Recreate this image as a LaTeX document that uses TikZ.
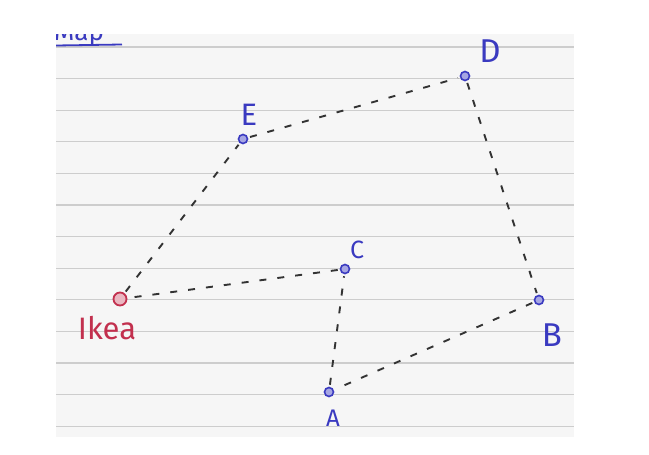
\documentclass[tikz,border=0pt]{standalone}
\usepackage{fontspec}
\setmainfont{Fira Sans}
\definecolor{paper}{HTML}{F6F6F6}
\definecolor{rule}{HTML}{CDCDCD}
\definecolor{ink}{HTML}{3A3AC0}
\definecolor{redink}{HTML}{C2304E}
\definecolor{pencil}{HTML}{333333}
\tikzset{
  pt/.style={circle, draw=ink, fill=ink!45, line width=1.6pt, minimum size=9pt, inner sep=0pt},
  ptred/.style={circle, draw=redink, fill=redink!35, line width=1.8pt, minimum size=13pt, inner sep=0pt},
  edge/.style={draw=pencil, line width=1.9pt, dash pattern=on 7pt off 11pt, shorten <=2pt, shorten >=2pt},
  lbl/.style={text=ink, inner sep=0pt},
  rulel/.style={draw=rule, line width=1.1pt}
}
\begin{document}
\begin{tikzpicture}[x=1pt,y=-1pt]
\useasboundingbox (0,0) rectangle (649,455);
\fill[white] (0,0) rectangle (649,455);
% paper
\fill[paper] (56,34) rectangle (574,437);
\foreach \k in {0,...,12} {
  \draw[rulel] (56,{47+31.6*\k}) -- (574,{47+31.6*\k});
}
% title, cut at the top edge of the paper
\begin{scope}
\clip (56,34) rectangle (574,437);
\node[lbl, anchor=base west, font=\fontsize{26}{28}\selectfont] (title) at (54,40) {Map};
\draw[ink, line width=1.8pt] (56,45.5) -- (122,44.5);
\end{scope}
% places
\node[ptred] (Ikea) at (120,299) {};
\node[pt] (E) at (243,139) {};
\node[pt] (D) at (465,76) {};
\node[pt] (C) at (345,269) {};
\node[pt] (B) at (539,300) {};
\node[pt] (A) at (329,392) {};
% labels
\node[lbl, font=\fontsize{33}{35}\selectfont] (Dl) at (490,51) {D};
\node[lbl, font=\fontsize{31}{33}\selectfont] (El) at (249,115) {E};
\node[lbl, font=\fontsize{25}{27}\selectfont] (Cl) at (357,250) {C};
\node[lbl, font=\fontsize{33}{35}\selectfont] (Bl) at (552,335) {B};
\node[lbl, font=\fontsize{24}{26}\selectfont] (Al) at (333,418) {A};
\node[lbl, text=redink, font=\fontsize{31}{33}\selectfont] (Ikeal) at (107,328) {Ikea};
% paths
\draw[edge] (Ikea) -- (E);
\draw[edge] (E) -- (D);
\draw[edge] (D) -- (B);
\draw[edge] (B) -- (A);
\draw[edge] (A) -- (C);
\draw[edge] (C) -- (Ikea);
\end{tikzpicture}
\end{document}
